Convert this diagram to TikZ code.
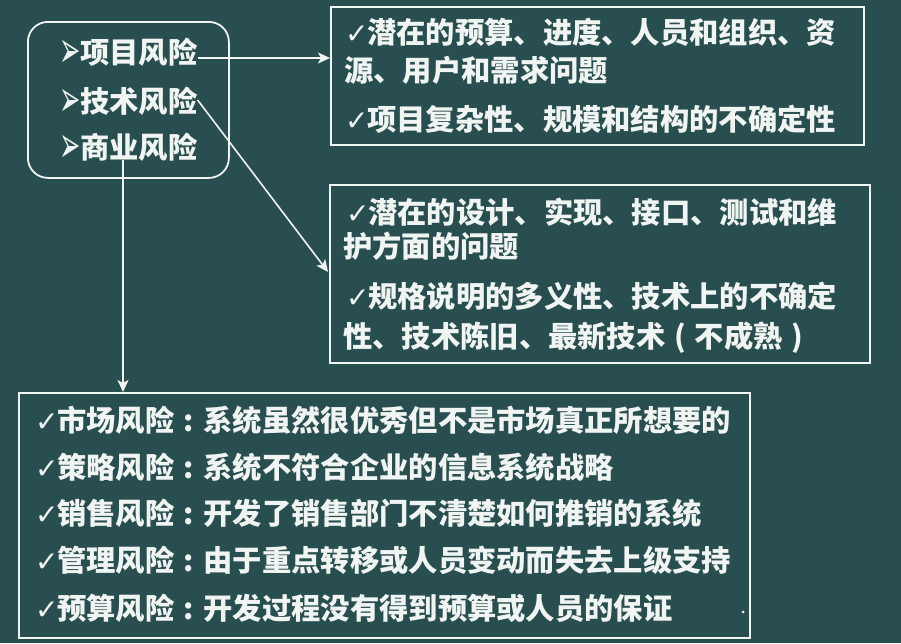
\documentclass[tikz,border=0pt]{standalone}
\usepackage{fontspec}
\usepackage{graphicx}
\setmainfont{Noto Sans CJK SC}
\newfontfamily\symfont{DejaVu Sans}
\usetikzlibrary{arrows.meta,calc}
\definecolor{bg}{HTML}{284E4F}
\definecolor{fg}{HTML}{F0F4F2}
\newcommand{\ck}{\makebox[22pt][l]{\symfont\bfseries\fontsize{28}{28}\selectfont ✓}}
\newcommand{\ar}{\makebox[21pt][l]{\raisebox{-4pt}{\scalebox{0.75}[1.5]{\symfont\fontsize{34}{34}\selectfont ➢}}}}
\newcommand{\cn}{\makebox[1em][c]{:}}
\begin{document}
\begin{tikzpicture}[x=1pt,y=-1pt,
  txt/.style={text=fg, anchor=west, inner sep=0pt, font=\bfseries\fontsize{29.3}{34}\selectfont},
  box/.style={draw=fg, line width=1.8pt, anchor=north west, inner sep=0pt},
  arr/.style={draw=fg, line width=1.6pt, -{Stealth[length=12pt,width=11pt,inset=3pt]}}]
\fill[bg] (0,0) rectangle (901,643);
\useasboundingbox (0,0) rectangle (901,643);

% boxes
\node[box, rounded corners=20pt, minimum width=201pt, minimum height=156pt] (lb) at (27,21) {};
\node[box, minimum width=533pt, minimum height=138pt] (b1) at (330,6) {};
\node[box, minimum width=540pt, minimum height=178pt] (b2) at (329,184) {};
\node[box, minimum width=731pt, minimum height=245pt] (b3) at (18,392) {};

% left box
\node[txt] (p1) at (59,53) {\ar 项目风险};
\node[txt] (p2) at (59,102) {\ar 技术风险};
\node[txt] (p3) at (59,148) {\ar 商业风险};

% box 1
\node[txt] (t11) at (345,32) {\ck 潜在的预算、进度、人员和组织、资};
\node[txt] (t12) at (344,70) {源、用户和需求问题};
\node[txt] (t13) at (345,119) {\ck 项目复杂性、规模和结构的不确定性};

% box 2
\node[txt] (t21) at (346,212) {\ck 潜在的设计、实现、接口、测试和维};
\node[txt] (t22) at (343,246) {护方面的问题};
\node[txt] (t23) at (346,296) {\ck 规格说明的多义性、技术上的不确定};
\node[txt] (t24) at (343,338) {性、技术陈旧、最新技术\makebox[1em][c]{(}不成熟\makebox[1em][c]{)}};

% box 3
\node[txt] (t31) at (35,420) {\ck 市场风险\cn 系统虽然很优秀但不是市场真正所想要的};
\node[txt] (t32) at (35,467) {\ck 策略风险\cn 系统不符合企业的信息系统战略};
\node[txt] (t33) at (35,513) {\ck 销售风险\cn 开发了销售部门不清楚如何推销的系统};
\node[txt] (t34) at (35,560) {\ck 管理风险\cn 由于重点转移或人员变动而失去上级支持};
\node[txt] (t35) at (35,608) {\ck 预算风险\cn 开发过程没有得到预算或人员的保证};

% connectors
\coordinate (a1) at ($(p1.east)+(0,5)$);
\draw[arr] (a1) -- (a1 -| b1.west);
\coordinate (a2) at ($(p2.east)+(0,-2)$);
\draw[arr] (a2) -- ($(b2.west)+(-1,-2)$);
\coordinate (a3) at (123,160);
\draw[arr] (a3) -- (a3 |- b3.north);

\fill[fg] (743,612) circle (1.5pt);
\end{tikzpicture}
\end{document}
